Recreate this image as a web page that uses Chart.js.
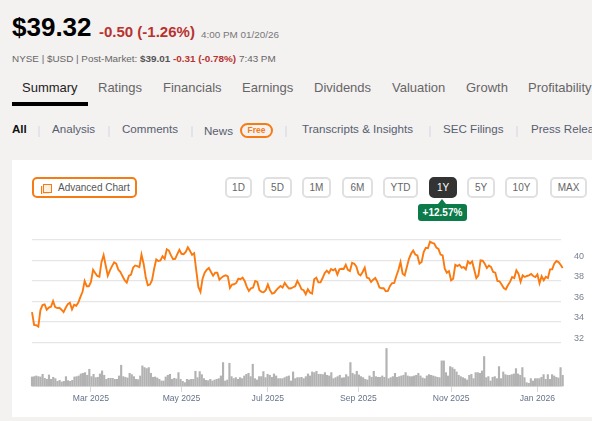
<!DOCTYPE html>
<html><head><meta charset="utf-8">
<script src="https://cdn.jsdelivr.net/npm/chart.js@4"></script>
<style>
html,body{margin:0;padding:0;width:592px;height:421px;overflow:hidden;background:#f4f1f1;font-family:"Liberation Sans",Arial,sans-serif}
.t{position:absolute;white-space:nowrap;line-height:1}
#panel{position:absolute;left:12px;top:160px;width:580px;height:257px;background:#fff}
canvas{position:absolute;left:0;top:0}
.tab{font-size:13px;color:#666;top:81px}
.sub{font-size:11.6px;color:#55606f;top:123px}
.sep{position:absolute;width:2px;height:11px;top:126px;background:#e2e4ea}
.btn{position:absolute;top:177px;height:17px;border:2px solid #e0e0e0;border-radius:5px;font-size:10px;color:#666;text-align:center;line-height:17px;box-sizing:content-box;background:#fff}
</style></head><body>
<div id="panel"></div>
<div class="t" style="left:12px;top:14px;font-size:26px;font-weight:bold;color:#000">$39.32</div>
<div class="t" style="left:99px;top:24px;font-size:15px;font-weight:bold;color:#b7332f">-0.50 (-1.26%)</div>
<div class="t" style="left:201px;top:30px;font-size:9.9px;color:#777">4:00 PM 01/20/26</div>
<div class="t" style="left:12px;top:54px;font-size:9.9px;color:#666">NYSE | $USD | Post-Market: <b style="color:#555">$39.01</b> <b style="color:#b7332f">-0.31 (-0.78%)</b> 7:43 PM</div>

<div class="t tab" style="left:22px;color:#222">Summary</div>
<div class="t tab" style="left:98px">Ratings</div>
<div class="t tab" style="left:163px">Financials</div>
<div class="t tab" style="left:242px">Earnings</div>
<div class="t tab" style="left:314px">Dividends</div>
<div class="t tab" style="left:392px">Valuation</div>
<div class="t tab" style="left:466px">Growth</div>
<div class="t tab" style="left:528px">Profitability</div>
<div style="position:absolute;left:12px;top:102px;width:76px;height:4px;background:#000"></div>

<div class="t sub" style="left:12px;font-weight:bold;color:#111">All</div>
<div class="t sub" style="left:52px">Analysis</div>
<div class="t sub" style="left:122px">Comments</div>
<div class="t sub" style="left:204px;top:125px">News</div>
<div class="t" style="left:240px;top:123px;width:29px;height:11px;border:2px solid #f57c14;border-radius:8px;font-size:8.5px;font-weight:bold;color:#f57c14;text-align:center;line-height:11px">Free</div>
<div class="t sub" style="left:302px">Transcripts &amp; Insights</div>
<div class="t sub" style="left:443px">SEC Filings</div>
<div class="t sub" style="left:531px">Press Releases</div>
<div class="sep" style="left:38px"></div><div class="sep" style="left:108px"></div><div class="sep" style="left:191px"></div><div class="sep" style="left:285px"></div><div class="sep" style="left:429px"></div><div class="sep" style="left:516px"></div>

<div style="position:absolute;left:32px;top:177px;width:101px;height:17px;border:2px solid #f57c14;border-radius:5px"></div>
<div style="position:absolute;left:41px;top:186px;width:7px;height:8px;background:#fde3cc;border-left:1px solid #f57c14"></div>
<div style="position:absolute;left:43px;top:184px;width:7px;height:7px;border:1px solid #f57c14;background:#fff0e2"></div>
<div class="t" style="left:58px;top:183px;font-size:10px;color:#555">Advanced Chart</div>

<div class="btn" style="left:225px;width:23px">1D</div>
<div class="btn" style="left:263px;width:25px">5D</div>
<div class="btn" style="left:302px;width:25px">1M</div>
<div class="btn" style="left:342px;width:27px">6M</div>
<div class="btn" style="left:383px;width:31px">YTD</div>
<div class="btn" style="left:429px;width:24px;background:#333;border-color:#333;color:#fff">1Y</div>
<div class="btn" style="left:467px;width:24px">5Y</div>
<div class="btn" style="left:505px;width:29px">10Y</div>
<div class="btn" style="left:550px;width:33px">MAX</div>
<div style="position:absolute;left:438px;top:199px;width:0;height:0;border-left:4px solid transparent;border-right:4px solid transparent;border-bottom:5px solid #0d7a4a"></div>
<div class="t" style="left:418px;top:204px;width:49px;height:17px;background:#0d7a4a;border-radius:3px;color:#fff;font-size:10px;font-weight:bold;text-align:center;line-height:17px">+12.57%</div>

<canvas id="c" width="592" height="421" style="width:592px;height:421px"></canvas>
<script>
const priceValues = [
34.95,33.69,33.66,33.53,35.15,35.63,35.70,35.18,35.40,35.47,36.02,35.44,35.34,35.37,35.18,34.95,35.37,35.73,35.86,35.21,35.66,35.57,35.89,36.44,36.93,37.99,37.48,37.48,37.90,39.09,38.77,38.48,38.41,39.84,40.52,39.51,38.51,39.03,39.45,39.81,39.68,39.09,38.87,38.45,38.06,37.83,38.48,38.61,39.29,39.51,39.45,39.35,40.58,39.68,38.38,37.57,37.64,38.06,39.19,40.10,39.94,40.00,
40.42,40.16,41.10,40.97,40.49,40.13,40.16,40.61,41.04,40.65,40.61,40.84,41.29,40.94,40.55,40.71,39.03,37.41,36.93,38.22,38.80,39.09,39.26,38.87,38.51,38.80,38.80,38.12,38.32,38.48,38.54,38.45,37.31,37.64,37.67,37.80,38.22,38.16,38.32,37.99,37.41,37.02,37.28,37.35,37.99,37.90,37.09,36.93,36.89,37.09,37.64,37.09,36.76,36.83,37.09,37.31,37.51,37.35,37.80,37.51,37.25,
37.28,37.38,37.48,37.99,37.64,37.18,37.09,36.70,37.18,36.86,36.76,38.16,38.32,37.86,37.86,38.28,38.77,39.00,38.77,39.16,39.03,39.16,38.61,39.13,39.19,39.16,39.58,39.09,38.96,39.77,39.68,39.42,38.71,38.54,38.87,39.29,38.32,38.25,37.90,38.12,38.28,37.90,37.35,37.28,37.28,36.99,37.02,37.51,37.77,37.80,38.48,39.06,39.84,38.71,38.54,39.35,40.16,40.65,40.97,40.58,40.49,39.68,39.84,40.81,
41.23,41.20,41.84,41.72,41.65,41.26,41.13,40.58,40.49,39.19,38.80,38.96,38.06,38.22,39.58,39.45,39.58,39.29,39.35,39.13,39.90,39.68,39.90,39.09,38.28,38.54,40.00,39.97,39.68,39.26,39.51,39.35,38.87,38.80,37.99,37.96,37.64,37.31,37.18,37.57,37.90,38.38,38.28,39.03,38.71,37.90,38.54,38.38,38.48,38.54,38.67,38.48,38.38,38.64,37.77,38.45,38.06,38.41,38.28,39.13,39.13,39.68,39.94,39.84,39.58,39.26];
const volumeValues = [
27,28,30,28,27,35,23,20,33,20,26,22,14,17,12,14,28,16,14,17,27,28,30,36,38,40,32,50,28,35,25,26,36,45,32,20,23,23,23,20,20,30,62,28,26,24,38,34,28,20,19,30,60,55,52,55,38,26,27,24,20,15,15,27,32,35,20,23,21,40,20,14,10,20,18,20,20,44,25,43,34,22,17,16,
20,15,18,20,22,30,70,15,18,68,28,22,25,20,25,22,30,35,38,28,65,22,18,28,28,43,25,35,32,26,36,30,22,22,22,25,28,30,15,42,22,25,25,26,22,28,36,30,42,40,44,35,35,34,40,32,30,40,22,25,28,32,24,25,34,28,70,38,34,44,33,28,25,20,18,30,26,44,28,26,26,30,26,112,22,
25,28,38,26,28,30,32,40,30,28,28,30,32,38,30,24,22,30,34,32,30,28,26,25,75,75,40,30,58,55,50,42,32,28,25,22,18,32,35,22,40,40,38,45,88,25,28,15,26,28,22,58,22,42,34,32,32,34,36,52,36,32,55,25,10,8,22,15,22,22,22,26,34,20,34,20,34,30,26,24,55,32];
const tickIndex = [28,71,112,155,199,240];
const tickLabels = ['Mar 2025','May 2025','Jul 2025','Sep 2025','Nov 2025','Jan 2026'];
const priceTicks = [32,34,36,38,40,42];

new Chart(document.getElementById('c'),{
  type:'bar',
  data:{datasets:[
    {type:'line',yAxisID:'y',order:0,data:priceValues.map((v,i)=>({x:i,y:v})),borderColor:'#fb7a10',borderWidth:1.9,pointRadius:0,tension:0,clip:false,borderJoinStyle:'miter'},
    {type:'bar',yAxisID:'v',order:1,data:volumeValues.map((v,i)=>({x:i*(priceValues.length-1)/(volumeValues.length-1),y:v})),backgroundColor:'#b2b2b2',barThickness:1.5,borderWidth:0,clip:false}
  ]},
  options:{
    responsive:false,devicePixelRatio:1,animation:false,
    layout:{padding:{top:240,left:32,right:0,bottom:0}},
    plugins:{legend:{display:false},tooltip:{enabled:false}},
    scales:{
      x:{type:'linear',min:0,max:251.2,offset:false,
        afterBuildTicks:a=>{a.ticks=tickIndex.map(v=>({value:v}))},
        afterFit:s=>{s.height=35},
        grid:{offset:false,drawOnChartArea:false,drawTicks:true,tickLength:6,color:'#d8d8d8'},
        border:{color:'#e4e4e4',width:1},
        ticks:{autoSkip:false,maxRotation:0,padding:1,color:'#66728a',font:{family:'"Liberation Sans"',size:8.6},
          callback:v=>tickLabels[tickIndex.indexOf(v)]||''}},
      y:{position:'right',min:27.72,max:42,
        afterBuildTicks:a=>{a.ticks=priceTicks.map(v=>({value:v}))},
        afterFit:s=>{s.width=31},
        grid:{color:'#e6e6e6',drawTicks:false,lineWidth:1.3},
        border:{display:false},
        ticks:{padding:13,labelOffset:-4,color:'#7a8290',font:{family:'"Liberation Sans"',size:9},
          callback:v=>v===42?'':String(v)}},
      v:{display:false,min:0,max:436}
    }
  }
});
</script>
</body></html>
